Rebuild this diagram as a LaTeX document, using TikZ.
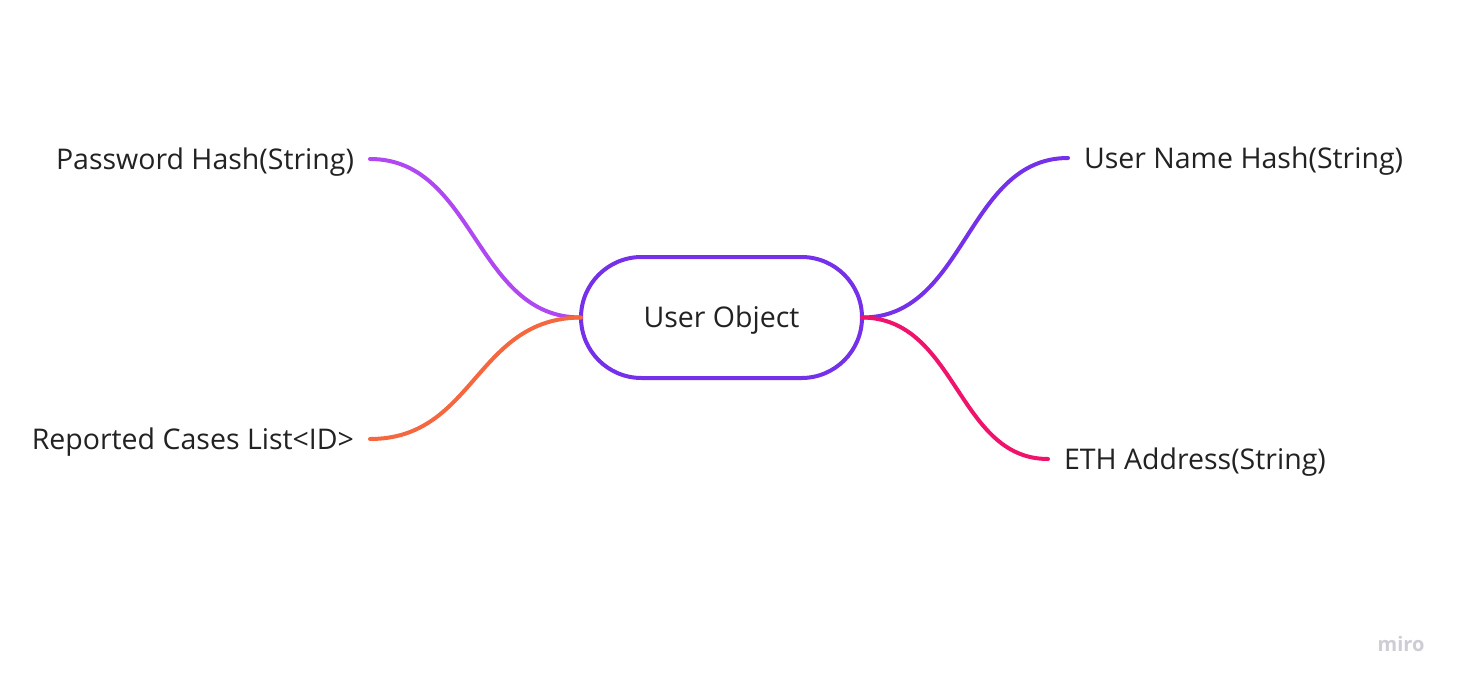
\documentclass[tikz,border=0pt]{standalone}
\usepackage{fontspec}
\setmainfont{Open Sans}
\definecolor{boxpurple}{HTML}{7531EA}
\definecolor{lilac}{HTML}{B048F2}
\definecolor{coral}{HTML}{F5683F}
\definecolor{hotpink}{HTML}{F0136C}
\definecolor{txt}{HTML}{222222}
\definecolor{mirogray}{HTML}{CDCDD5}
\begin{document}
\begin{tikzpicture}[x=1pt,y=-1pt,
  label/.style={inner xsep=16pt,inner ysep=2pt,outer sep=0pt,text=txt,text height=20.3pt,text depth=0pt,font=\fontsize{28.5}{32}\selectfont},
  centrebox/.style={draw=boxpurple,line width=4pt,rounded corners=60.5pt,minimum width=281pt,minimum height=121pt,inner sep=0pt,outer sep=0pt,text=txt,text height=20.3pt,text depth=0pt,font=\fontsize{28.5}{32}\selectfont},
  branch/.style={line width=4pt,line cap=round}]
\useasboundingbox[fill=white] (0,0) rectangle (1458,685);
\node[centrebox] (obj) at (721.5,317.5) {User Object};
\node[label,anchor=east] (pw) at (370,159) {Password Hash(String)};
\node[label,anchor=east] (rc) at (370,439) {Reported Cases List<ID>};
\node[label,anchor=west] (un) at (1068,158) {User Name Hash(String)};
\node[label,anchor=west] (eth) at (1048,459) {ETH Address(String)};
\node[text=mirogray,font=\bfseries\fontsize{20}{24}\selectfont] (miro) at (1401,644) {miro};
\draw[branch,lilac] (pw.east) .. controls (475,159) and (475,318) .. (obj.west);
\draw[branch,coral] (rc.east) .. controls (475,439) and (475,318) .. (obj.west);
\draw[branch,boxpurple] (obj.east) .. controls (966,318) and (966,158) .. (un.west);
\draw[branch,hotpink] (obj.east) .. controls (957,318) and (957,459) .. (eth.west);
\end{tikzpicture}
\end{document}
